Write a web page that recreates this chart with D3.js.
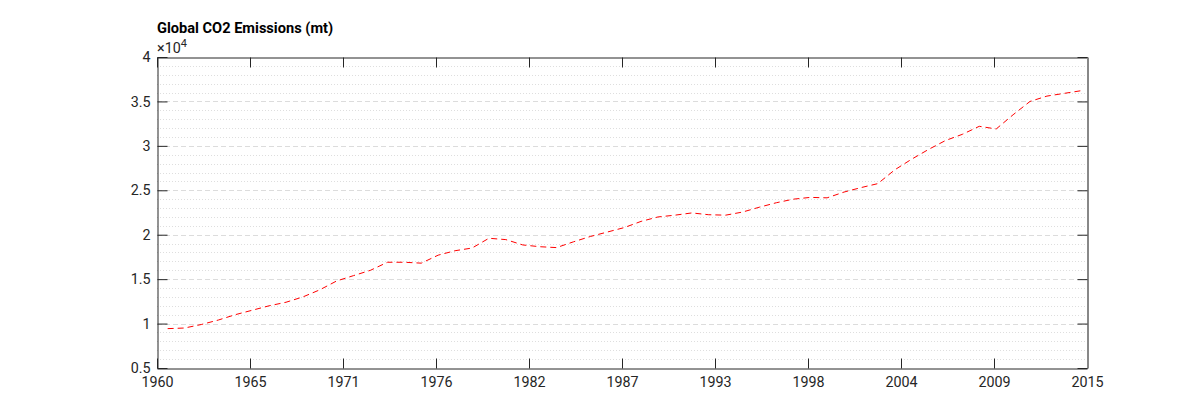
<!DOCTYPE html>
<html>
<head>
<meta charset="utf-8">
<script src="https://cdn.jsdelivr.net/npm/d3@7"></script>
<style>
  body { margin: 0; background: #fff; }
  text { font-family: Roboto, "Noto Sans", sans-serif; }
</style>
</head>
<body>
<script>
var width = 1200, height = 400

// data: global CO2 emissions (mt)
var years = [1960, 1961, 1962, 1963, 1964, 1965, 1966, 1967, 1968, 1969,
             1970, 1971, 1972, 1973, 1974, 1975, 1976, 1977, 1978, 1979,
             1980, 1981, 1982, 1983, 1984, 1985, 1986, 1987, 1988, 1989,
             1990, 1991, 1992, 1993, 1994, 1995, 1996, 1997, 1998, 1999,
             2000, 2001, 2002, 2003, 2004, 2005, 2006, 2007, 2008, 2009,
             2010, 2011, 2012, 2013, 2014];
var emissions = [9430, 9500, 9900, 10400, 11000, 11500, 12000, 12400, 13000, 13800,
                 14800, 15400, 16000, 16900, 16900, 16800, 17700, 18200, 18500, 19600,
                 19450, 18850, 18650, 18550, 19200, 19800, 20300, 20800, 21500, 22000,
                 22200, 22450, 22250, 22200, 22550, 23100, 23600, 24000, 24200, 24150,
                 24800, 25300, 25750, 27300, 28500, 29600, 30600, 31300, 32200, 31900,
                 33500, 35000, 35600, 35900, 36200];
var xTicks = [1960, 1965.5, 1971, 1976.5, 1982, 1987.5, 1993, 1998.5, 2004, 2009.5, 2015];
var xTickLabels = ["1960", "1965", "1971", "1976", "1982", "1987", "1993", "1998", "2004", "2009", "2015"];
var yTicks = [0.5, 1, 1.5, 2, 2.5, 3, 3.5, 4];
var yTickLabels = ["0.5", "1", "1.5", "2", "2.5", "3", "3.5", "4"];
var yMinor = d3.range(5, 41).map(function(d){ return d / 10; });
var yearOffset = 0.63  // points sit a bit after the year mark

var margin = {left: 157, right: 113, top: 57, bottom: 32}
var axisColor = "#262626"

var svg = d3.select("body")
    .append("svg")
    .attr("width", width)
    .attr("height", height);

var x = d3.scaleLinear().domain([1960, 2015]).range([margin.left, width - margin.right]);
var y = d3.scaleLinear().domain([0.5, 4]).range([height - margin.bottom, margin.top]);

// minor grid
svg.append("g").selectAll("line")
    .data(yMinor.filter(function(d){ return yTicks.indexOf(d) < 0; }))
  .enter().append("line")
    .attr("x1", x(1960)).attr("x2", x(2015))
    .attr("y1", function(d){ return Math.round(y(d)) + 0.5; })
    .attr("y2", function(d){ return Math.round(y(d)) + 0.5; })
    .attr("stroke", "#dedede")
    .attr("stroke-dasharray", "1,2");

// major grid
svg.append("g").selectAll("line")
    .data(yTicks.slice(1, -1))
  .enter().append("line")
    .attr("x1", x(1960)).attr("x2", x(2015))
    .attr("y1", function(d){ return Math.round(y(d)) + 0.5; })
    .attr("y2", function(d){ return Math.round(y(d)) + 0.5; })
    .attr("stroke", "#dcdcdc")
    .attr("stroke-dasharray", "5,3");

// the line
var line = d3.line()
    .x(function(d, i){ return x(years[i] + yearOffset); })
    .y(function(d){ return y(d / 1e4); });

svg.append("path")
    .datum(emissions)
    .attr("d", line)
    .attr("fill", "none")
    .attr("stroke", "#ff0000")
    .attr("stroke-width", 1)
    .attr("stroke-dasharray", "6,4");

// axes: bottom/left with labels, top/right ticks only (inward)
var axBottom = svg.append("g")
    .attr("transform", "translate(0," + (Math.round(y(0.5)) + 0.5) + ")")
    .call(d3.axisBottom(x).tickValues(xTicks).tickSizeInner(-10).tickSizeOuter(0).tickPadding(8)
      .tickFormat(function(d, i){ return xTickLabels[i]; }));
var axTop = svg.append("g")
    .attr("transform", "translate(0," + (Math.round(y(4)) + 0.5) + ")")
    .call(d3.axisTop(x).tickValues(xTicks).tickSizeInner(-10).tickSizeOuter(0).tickFormat(""));
var axLeft = svg.append("g")
    .attr("transform", "translate(" + (Math.round(x(1960)) + 0.5) + ",0)")
    .call(d3.axisLeft(y).tickValues(yTicks).tickSizeInner(-10).tickSizeOuter(0).tickPadding(7)
      .tickFormat(function(d, i){ return yTickLabels[i]; }));
var axRight = svg.append("g")
    .attr("transform", "translate(" + (Math.round(x(2015)) + 0.5) + ",0)")
    .call(d3.axisRight(y).tickValues(yTicks).tickSizeInner(-10).tickSizeOuter(0).tickFormat(""));

[axBottom, axTop, axLeft, axRight].forEach(function(g){
  g.attr("font-family", null).attr("font-size", null);
  g.select(".domain").attr("stroke", axisColor);
  g.selectAll(".tick line").attr("stroke", axisColor);
  g.selectAll(".tick text").attr("fill", axisColor).style("font-size", "14.3px");
});
axRight.select(".domain").attr("stroke", "#888").attr("stroke-width", 2);

// title and exponent
svg.append("text")
    .attr("x", margin.left)
    .attr("y", 33)
    .attr("fill", "#000")
    .style("font-size", "14.6px")
    .style("font-weight", "bold")
    .text("Global CO2 Emissions (mt)");

var ex = svg.append("text")
    .attr("x", margin.left)
    .attr("y", 53)
    .attr("fill", axisColor)
    .style("font-size", "14.3px");
ex.append("tspan").text("\u00d710");
ex.append("tspan").attr("dy", -6).style("font-size", "11px").text("4");
</script>
</body>
</html>
